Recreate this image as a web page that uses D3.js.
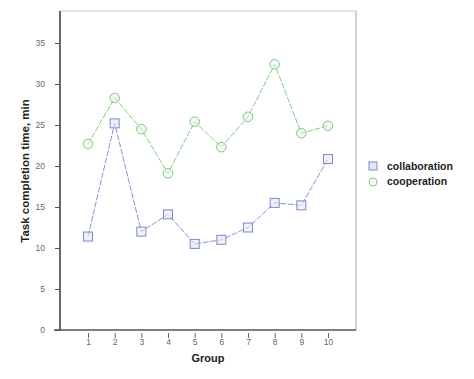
<!DOCTYPE html>
<html><head><meta charset="utf-8">
<script src="https://cdn.jsdelivr.net/npm/d3@7"></script>
<style>body{margin:0;background:#fff;} svg{display:block;font-family:"Liberation Sans",Arial,sans-serif;}</style>
</head><body>
<svg id="c" width="474" height="379"></svg>
<script>
const groups = [1,2,3,4,5,6,7,8,9,10];
const collaboration = [11.4,25.2,12.0,14.1,10.5,11.0,12.5,15.5,15.2,20.85];
const cooperation = [22.7,28.3,24.5,19.1,25.4,22.3,26.0,32.4,24.0,24.9];
const yTicks = [0,5,10,15,20,25,30,35];
const seriesNames = ["collaboration","cooperation"];

const svg = d3.select("#c");
const L=60, R=356, T=11, B=330;
const x = d3.scaleLinear().domain([-0.05,11.05]).range([L,R]);
const y = d3.scaleLinear().domain([0,35]).range([B,43]);

// frame
svg.append("line").attr("x1",L).attr("x2",R).attr("y1",T).attr("y2",T).attr("stroke","#c8c8c8").attr("stroke-width",1.2);
svg.append("line").attr("x1",R).attr("x2",R).attr("y1",T).attr("y2",B).attr("stroke","#c0c0c0").attr("stroke-width",1.4);

// y axis
const ya = svg.append("g").attr("transform",`translate(${L},0)`)
  .call(d3.axisLeft(y).tickValues(yTicks).tickSize(5).tickPadding(10));
ya.select(".domain").attr("stroke","#444").attr("stroke-width",1.6).attr("d",`M0,${T}V${B}`);
ya.selectAll(".tick line").attr("stroke","#555");
ya.selectAll(".tick text").attr("fill","#666").attr("font-size",8.5);

// x axis
const xa = svg.append("g").attr("transform",`translate(0,${B})`)
  .call(d3.axisBottom(x).tickValues(groups).tickSize(0).tickPadding(9));
xa.select(".domain").attr("stroke","#555").attr("stroke-width",1.3).attr("d",`M${L-6},0H${R}`);
xa.selectAll(".tick line").remove();
xa.selectAll(".tick").append("line").attr("y1",3).attr("y2",8).attr("stroke","#666");
xa.selectAll(".tick text").attr("fill","#666").attr("font-size",8.5);

// titles
svg.append("text").attr("x",208).attr("y",362).attr("text-anchor","middle")
  .attr("font-weight","bold").attr("font-size",11).attr("fill","#222").text("Group");
svg.append("text").attr("transform","translate(29,171) rotate(-90)").attr("text-anchor","middle")
  .attr("font-weight","bold").attr("font-size",11.5).attr("fill","#222").text("Task completion time, min");

const line = d3.line().x((d,i)=>x(groups[i])).y(d=>y(d));
svg.append("path").datum(collaboration).attr("d",line).attr("fill","none")
  .attr("stroke","#8a94d0").attr("stroke-width",1).attr("stroke-dasharray","6,1.5");
svg.append("path").datum(cooperation).attr("d",line).attr("fill","none")
  .attr("stroke","#86cc86").attr("stroke-width",1).attr("stroke-dasharray","6,1.5");

svg.selectAll(".sq").data(collaboration).enter().append("rect")
  .attr("x",(d,i)=>x(groups[i])-4.5).attr("y",d=>y(d)-4.5).attr("width",9).attr("height",9)
  .attr("fill","#e4e8f6").attr("fill-opacity",0.6).attr("stroke","#7f8ac8").attr("stroke-width",1);
svg.selectAll(".ci").data(cooperation).enter().append("circle")
  .attr("cx",(d,i)=>x(groups[i])).attr("cy",d=>y(d)).attr("r",4.8)
  .attr("fill","#e6f5e6").attr("fill-opacity",0.5).attr("stroke","#80c880").attr("stroke-width",1);

// legend
svg.append("rect").attr("x",369).attr("y",162).attr("width",8).attr("height",8)
  .attr("fill","#e4e8f6").attr("stroke","#7f8ac8");
svg.append("circle").attr("cx",373).attr("cy",182).attr("r",4)
  .attr("fill","#fff").attr("stroke","#80c880");
svg.selectAll(".lt").data(seriesNames).enter().append("text")
  .attr("x",387).attr("y",(d,i)=>170+i*15).attr("font-size",10.5).attr("font-weight","bold")
  .attr("fill","#222").text(d=>d);
</script>
</body></html>
